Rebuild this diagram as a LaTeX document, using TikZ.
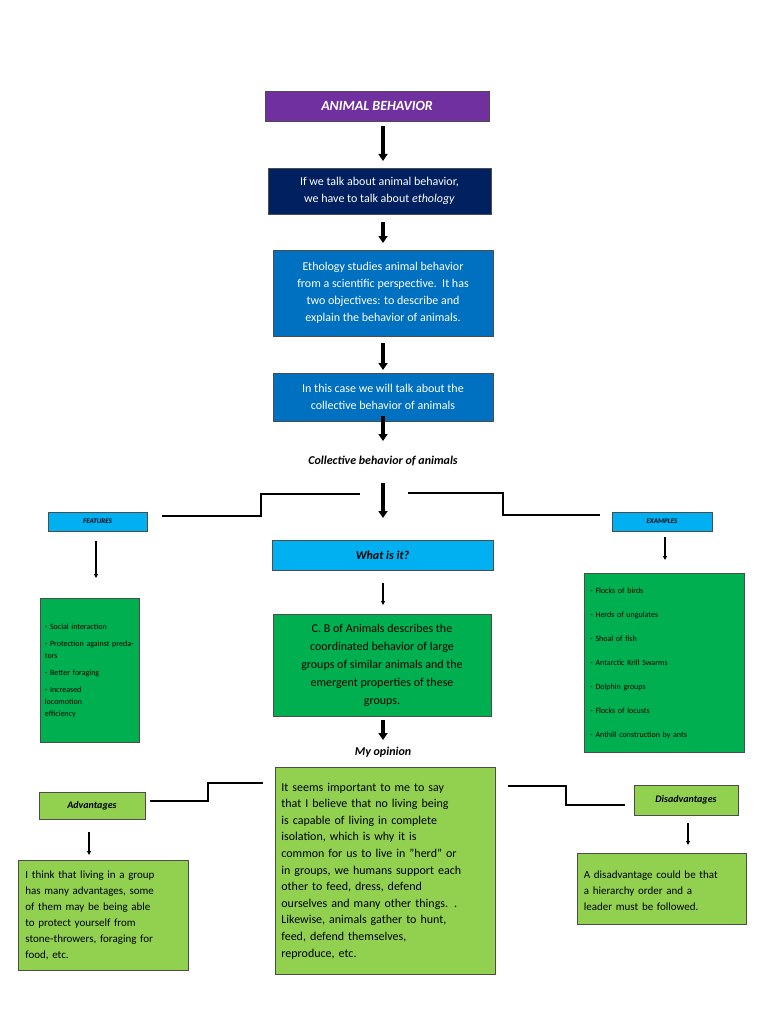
\documentclass[tikz,border=0pt]{standalone}
\usepackage{fontspec}
\setmainfont{Carlito}
\usetikzlibrary{arrows.meta}
\definecolor{purp}{HTML}{7030A0}
\definecolor{navy}{HTML}{002060}
\definecolor{mblue}{HTML}{0070C0}
\definecolor{sky}{HTML}{00B0F0}
\definecolor{dgreen}{HTML}{00B050}
\definecolor{lgreen}{HTML}{92D050}
\begin{document}
\begin{tikzpicture}[x=1pt,y=-1pt,
 box/.style={draw=black!70,line width=0.8pt,minimum width=#1,inner sep=3pt,align=center},
 big/.style={-{Triangle[length=7pt,width=9pt]},line width=3.5pt},
 thin/.style={-{Triangle[length=4pt,width=4pt]},line width=1.8pt},
 conn/.style={line width=1.5pt}]
\useasboundingbox (0,0) rectangle (768,1024);
\node[box=224pt,fill=purp,minimum height=30pt,text=white,font=\fontsize{14}{16}\selectfont\bfseries\itshape] (t) at (377,106) {ANIMAL BEHAVIOR};
\node[box=223pt,fill=navy,minimum height=46pt,text=white,font=\fontsize{12}{17}\selectfont] (b2) at (379.5,191) {If we talk about animal behavior,\\we have to talk about \textit{ethology}};
\node[box=220pt,fill=mblue,minimum height=86pt,text=white,font=\fontsize{12}{17}\selectfont] (b3) at (383,293) {Ethology studies animal behavior\\from a scientific perspective.\ \ It has\\two objectives: to describe and\\explain the behavior of animals.};
\node[box=220pt,fill=mblue,minimum height=48pt,text=white,font=\fontsize{12}{17}\selectfont] (b4) at (383,397) {In this case we will talk about the\\collective behavior of animals};
\node[font=\fontsize{12}{14}\selectfont\bfseries\itshape] (cb) at (383,461) {Collective behavior of animals};
\coordinate (hub) at (383,518);
\node[box=99pt,fill=sky,minimum height=19pt,inner sep=1pt,font=\fontsize{7}{8}\selectfont\bfseries\itshape] (fe) at (97.5,521.5) {FEATURES};
\node[box=100pt,fill=sky,minimum height=19pt,inner sep=1pt,font=\fontsize{7}{8}\selectfont\bfseries\itshape] (ex) at (662,521.5) {EXAMPLES};
\node[box=221pt,fill=sky,minimum height=30pt,font=\fontsize{12}{14}\selectfont\bfseries\itshape] (wi) at (382.5,555) {What is it?};
\node[box=218pt,fill=dgreen,minimum height=102pt,font=\fontsize{12}{18}\selectfont] (cbd) at (382,665) {C. B of Animals describes the\\coordinated behavior of large\\groups of similar animals and the\\emergent properties of these\\groups.};
\node[box=99pt,fill=dgreen,minimum height=144pt,align=left,anchor=north west,inner sep=4pt,text width=90pt,font=\fontsize{8}{12}\selectfont] (fl) at (40,598) {- Social interaction\\[5pt]- Protection against predators\\[5pt]- Better foraging\\[5pt]- Increased\\locomotion\\efficiency};
\node[box=160pt,fill=dgreen,minimum height=179pt,align=left,anchor=north west,inner sep=6pt,text width=148pt,font=\fontsize{8}{12}\selectfont] (el) at (584,573) {- Flocks of birds\\[12pt]- Herds of ungulates\\[12pt]- Shoal of fish\\[12pt]- Antarctic Krill Swarms\\[12pt]- Dolphin groups\\[12pt]- Flocks of locusts\\[12pt]- Anthill construction by ants};
\node[font=\fontsize{12}{14}\selectfont\bfseries\itshape] (mo) at (383,752) {My opinion};
\node[box=220pt,fill=lgreen,minimum height=207pt,anchor=north west,align=left,inner sep=5pt,text width=208pt,font=\fontsize{12}{16.6}\selectfont] (op) at (275,767) {It seems important to me to say\\that I believe that no living being\\is capable of living in complete\\isolation, which is why it is\\common for us to live in "herd" or\\in groups, we humans support each\\other to feed, dress, defend\\ourselves and many other things. .\\Likewise, animals gather to hunt,\\feed, defend themselves,\\reproduce, etc.};
\node[box=106pt,fill=lgreen,minimum height=27pt,font=\fontsize{10}{12}\selectfont\bfseries\itshape] (ad) at (92,805.5) {Advantages};
\node[box=104pt,fill=lgreen,minimum height=30pt,font=\fontsize{10}{12}\selectfont\bfseries\itshape] (di) at (686,800) {Disadvantages};
\node[box=170pt,fill=lgreen,minimum height=110pt,anchor=north west,align=left,inner sep=6pt,text width=156pt,font=\fontsize{11}{16}\selectfont] (at) at (18,860) {I think that living in a group\\has many advantages, some\\of them may be being able\\to protect yourself from\\stone-throwers, foraging for\\food, etc.};
\node[box=169pt,fill=lgreen,minimum height=71pt,anchor=north west,align=left,inner sep=6pt,text width=156pt,font=\fontsize{11}{16}\selectfont,text depth=28pt] (dt) at (577,853) {A disadvantage could be that\\a hierarchy order and a\\leader must be followed.};
% arrows
\draw[big] (383,126) -- (383,161);
\draw[big] (383,222) -- (383,243);
\draw[big] (383,343) -- (383,370);
\draw[big] (383,416) -- (383,441);
\draw[big] (383,483) -- (hub);
\draw[big] (383,720) -- (383,740);
\draw[thin] (96,541) -- (96,578);
\draw[thin] (665,537) -- (665,560);
\draw[thin] (383,583) -- (383,605);
\draw[thin] (89,832) -- (89,855);
\draw[thin] (688,823) -- (688,845);
% connectors
\draw[conn] (360,494) -- (261,494) -- (261,516) -- (162,516);
\draw[conn] (408,493) -- (503,493) -- (503,515) -- (600,515);
\draw[conn] (150,801) -- (208,801) -- (208,783) -- (263,783);
\draw[conn] (508,786) -- (566,786) -- (566,805) -- (625,805);
\end{tikzpicture}
\end{document}
